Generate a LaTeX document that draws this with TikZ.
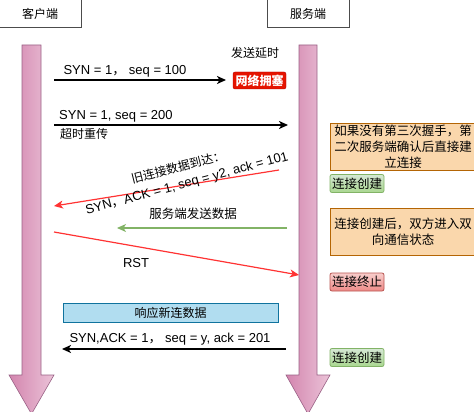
\documentclass[tikz,border=0pt]{standalone}
\usepackage{fontspec}
\setmainfont{Liberation Sans}
\newfontfamily\cjk{Noto Sans CJK SC}
\usetikzlibrary{arrows.meta,positioning}

\definecolor{laneborder}{HTML}{996185}
\definecolor{laneleft}{HTML}{D385AE}
\definecolor{laneright}{HTML}{EBC3D8}
\definecolor{notefill}{HTML}{FAD7AC}
\definecolor{noteborder}{HTML}{B46504}
\definecolor{okfill}{HTML}{D5E8D4}
\definecolor{okdark}{HTML}{A9D68F}
\definecolor{okborder}{HTML}{82B366}
\definecolor{endfill}{HTML}{F8CECC}
\definecolor{enddark}{HTML}{EE8A87}
\definecolor{endborder}{HTML}{B85450}
\definecolor{jamfill}{HTML}{E51400}
\definecolor{jamborder}{HTML}{B20000}
\definecolor{infofill}{HTML}{B1DDF0}
\definecolor{infoborder}{HTML}{10739E}
\definecolor{oldred}{HTML}{FF3333}
\definecolor{datagreen}{HTML}{82B366}

\tikzset{
  party/.style={draw=black!70, fill=white, minimum width=82pt, minimum height=37pt, inner sep=0pt},
  lifeline/.style={draw=laneborder, line width=0.6pt, left color=laneleft, right color=laneright},
  msg/.style={line width=1.6pt, -{Stealth[length=9pt,width=8pt,inset=2.5pt]}},
  note/.style={draw=noteborder, fill=notefill, line width=0.8pt, minimum width=146pt, minimum height=47pt, align=center, inner sep=0pt, font=\cjk\fontsize{12.5}{16}\selectfont},
  tag/.style={draw=#1border, top color=#1fill, bottom color=#1dark, rounded corners=2pt, line width=0.8pt, minimum width=54pt, minimum height=18pt, inner sep=0pt, font=\cjk\fontsize{12.5}{14}\selectfont},
  lbl/.style={inner sep=0pt, font=\fontsize{13}{15}\selectfont},
  zh/.style={inner sep=0pt, font=\cjk\fontsize{12}{14}\selectfont},
}

\begin{document}
\begin{tikzpicture}[x=1pt, y=-1pt, font=\fontsize{12}{14}\selectfont]
  \useasboundingbox (0,0) rectangle (474,412);

  \node[party] (client) at (40,8.5)  {};
  \node[party] (server) at (308,8.5) {};
  \node[zh] (clientname) at (40,14)  {客户端};
  \node[zh] (servername) at (308,14) {服务端};

  \draw[lifeline] (22,45) -- (41,45) -- (41,375) -- (54,375) -- (31.5,414) -- (9,375) -- (22,375) -- cycle;
  \draw[lifeline] (299,45) -- (317,45) -- (317,375) -- (330,375) -- (308,414) -- (286,375) -- (299,375) -- cycle;

  \coordinate (c1) at (54,80);   \coordinate (s1) at (226,80);
  \coordinate (c2) at (54,125);  \coordinate (s2) at (288,125);
  \coordinate (s3) at (279,170); \coordinate (c3) at (54,206);
  \coordinate (s4) at (287,228); \coordinate (c4) at (117,228);
  \coordinate (c5) at (54,232);  \coordinate (s5) at (299,275);
  \coordinate (s6) at (286,349); \coordinate (c6) at (62,349);

  \draw[msg] (c1) -- (s1);
  \draw[msg] (c2) -- (s2);
  \draw[msg, line width=1.2pt, draw=oldred] (s3) -- (c3);
  \draw[msg, line width=1.2pt, draw=datagreen] (s4) -- (c4);
  \draw[msg, line width=1.2pt, draw=oldred] (c5) -- (s5);
  \draw[msg] (s6) -- (c6);

  \node[lbl] (seq100) at (125,71) {SYN = 1{\cjk ，} seq = 100};
  \node[zh] (delay) at (255,53) {发送延时};
  \node[draw=jamborder, fill=jamfill, text=white, rounded corners=2pt, minimum width=53pt, minimum height=17pt, inner sep=0pt, font=\cjk\bfseries\fontsize{12}{14}\selectfont] (jam) at (259.5,80.5) {网络拥塞};

  \node[lbl, anchor=west] (seq200) at (59,116) {SYN = 1, seq = 200};
  \node[zh, anchor=west] (retry) at (60,134) {超时重传};

  \node[zh, rotate=14] (oldarrive) at (178,167) {旧连接数据到达：};
  \node[lbl, rotate=15] (oldsyn) at (187,184) {SYN{\cjk ，}ACK = 1, seq = y2, ack = 101};

  \node[zh, font=\cjk\fontsize{12.5}{14}\selectfont] (senddata) at (193,214) {服务端发送数据};
  \node[lbl] (rst) at (136,263) {RST};

  \node[draw=infoborder, fill=infofill, line width=0.8pt, minimum width=215pt, minimum height=19pt, inner sep=0pt, font=\cjk\fontsize{12}{14}\selectfont] (reply) at (170.5,312.5) {响应新连数据};
  \node[lbl] (seqy) at (170,339) {SYN,ACK = 1{\cjk ，} seq = y, ack = 201};

  \node[note] (note1) at (403,146.5) {如果没有第三次握手，第\\二次服务端确认后直接建\\立连接};
  \node[tag=ok] (made1) at (357,183.5) {连接创建};
  \node[note] (note2) at (403,232) {连接创建后，双方进入双\\向通信状态};
  \node[tag=end] (stop) at (357,282) {连接终止};
  \node[tag=ok] (made2) at (357,357.5) {连接创建};
\end{tikzpicture}
\end{document}
